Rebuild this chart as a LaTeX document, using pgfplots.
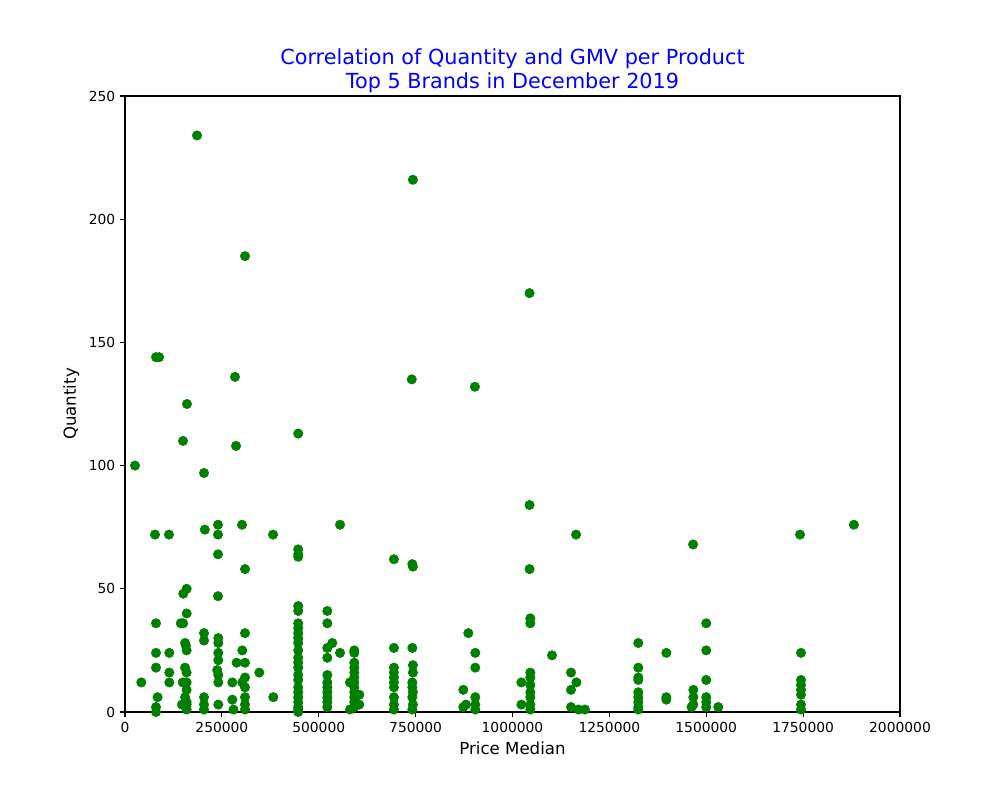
\documentclass[border=0pt]{standalone}
\usepackage{fontspec}
\setmainfont{DejaVu Sans}
\usepackage{pgfplots}
\pgfplotsset{compat=1.18}
\definecolor{mplgreen}{HTML}{008000}
\begin{document}
\begin{tikzpicture}
\useasboundingbox (0,0) rectangle (10in,8in);
\begin{axis}[
  at={(1.25in,0.88in)}, anchor=south west,
  scale only axis, width=7.75in, height=6.16in,
  xmin=0, xmax=2000000, ymin=0, ymax=250,
  xtick={0,250000,...,2000000}, ytick={0,50,...,250},
  scaled ticks=false,
  /pgf/number format/fixed, /pgf/number format/1000 sep={},
  /pgf/number format/assume math mode=true,
  tick label style={font=\fontsize{10}{12}\selectfont},
  tick align=outside, major tick length=3.5pt,
  xtick pos=bottom, ytick pos=left,
  axis line style={line width=0.8pt},
  every tick/.style={black, line width=0.8pt},
  xlabel={Price Median}, ylabel={Quantity},
  label style={font=\fontsize{12}{14}\selectfont},
  title={Correlation of Quantity and GMV per Product\\Top 5 Brands in December 2019},
  title style={font=\fontsize{15}{17.4}\selectfont, text=blue, align=center, yshift=-7pt},
]
\addplot[only marks, mark=*, mark size=3.4pt, mplgreen, mark options={draw=mplgreen, fill=mplgreen}] coordinates {
(25800,100) (185800,234) (80000,144) (88000,144) (283900,136) (286500,108)
(309700,185) (149700,110) (160000,125) (203900,97) (206000,74)
(240000,76) (240000,72) (240000,64) (240000,47) (302000,76) (309700,58)
(382000,72) (447000,113) (447000,66) (447000,64) (447000,63) (555000,76)
(694000,62) (743000,216) (740000,135) (741500,60) (743000,59) (903000,132)
(1044000,170) (1044000,84) (1044000,58) (1164000,72) (1466000,68)
(1742000,72) (1881000,76) (77400,72) (113500,72)
(42100,12) (80000,36) (80000,24) (80000,18) (84000,6) (80000,2) (80000,0)
(114400,24) (114400,16) (114400,12)
(150400,48) (159100,50) (159100,40) (144000,36) (150000,36) (155000,28)
(157000,27) (159000,25) (155000,18) (159000,16) (149000,12) (159000,12)
(159000,9) (155000,6) (159000,4) (147000,3) (159000,3) (159000,1)
(203900,32) (203900,29) (203900,6) (203900,3) (203900,1)
(240800,30) (240800,28) (240800,24) (240800,21) (238000,17) (240800,15)
(240800,12) (240800,3)
(309700,32) (302700,25) (288000,20) (309700,20) (309700,14) (302700,12)
(309700,10) (309700,6) (309700,3) (309700,1) (277000,12) (277000,5) (280000,1)
(346600,16) (382700,6)
(447000,43) (447000,41) (447000,36) (447000,34) (447000,32) (447000,30)
(447000,28) (447000,25) (447000,22) (447000,20) (447000,18) (447000,15)
(447000,13) (447000,10) (447000,8) (447000,6) (447000,4) (447000,2)
(447000,1) (447000,0)
(522100,41) (522100,36) (522100,26) (522100,22) (522100,15) (522100,12)
(522100,10) (522100,8) (522100,6) (522100,4) (522100,2)
(535000,28) (555000,24)
(591700,25) (591700,24) (591700,20) (591700,18) (591700,16) (591700,14)
(591700,12) (591700,10) (591700,8) (591700,6) (591700,4) (591700,2)
(580600,12) (580600,1) (604600,7) (604600,3)
(694000,26) (694000,18) (694000,16) (694000,14) (694000,12) (694000,10)
(694000,6) (694000,3) (694000,1)
(741500,26) (743000,19) (743000,16) (741500,12) (741500,10) (743000,8)
(741500,6) (743000,3) (741500,1)
(886000,32) (904000,24) (904000,18) (904000,6) (904000,3) (904000,1)
(873000,9) (873000,2) (880000,3)
(1046000,38) (1046000,36) (1046000,16) (1046000,14) (1046000,11)
(1046000,8) (1046000,6) (1046000,3) (1046000,1)
(1023000,12) (1023000,3) (1102000,23)
(1151000,16) (1165000,12) (1151000,9) (1151000,2) (1170000,1) (1187000,1)
(1324600,28) (1324600,18) (1324600,14) (1324600,13) (1324600,8)
(1324600,6) (1324600,4) (1324600,2) (1324600,1)
(1397000,24) (1397000,6) (1397000,5)
(1466700,9) (1466700,6) (1466700,3) (1462000,2)
(1500000,36) (1500000,25) (1500000,13) (1500000,6) (1500000,4) (1500000,2)
(1531000,2)
(1744500,24) (1744500,13) (1744500,11) (1744500,9) (1744500,7)
(1744500,3) (1744500,1)
};
\end{axis}
\end{tikzpicture}
\end{document}
